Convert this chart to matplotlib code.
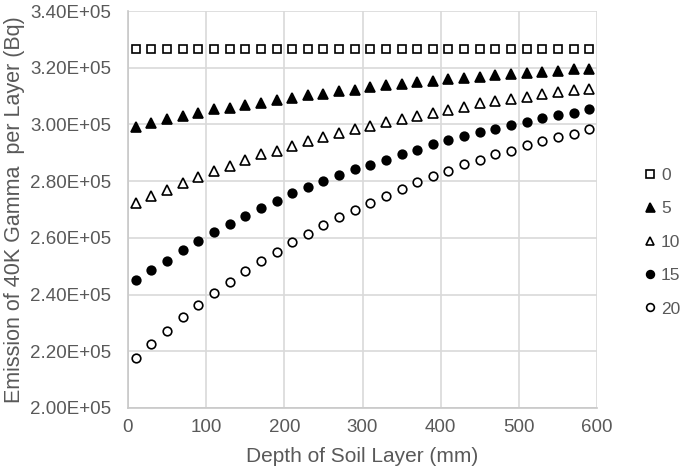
import matplotlib.pyplot as plt
from matplotlib.ticker import FuncFormatter, MultipleLocator

plt.rcParams['font.family'] = ['Liberation Sans', 'DejaVu Sans']

# depth of soil layer (mm)
depth = list(range(10, 600, 20))

# emission per layer, in units of 1e5 Bq
em_0 = [3.265] * 30
em_5 = [2.992, 3.004, 3.020, 3.030, 3.040, 3.054, 3.059, 3.070, 3.077, 3.086,
        3.094, 3.103, 3.108, 3.117, 3.122, 3.131, 3.139, 3.143, 3.151, 3.154,
        3.159, 3.163, 3.168, 3.173, 3.179, 3.182, 3.186, 3.189, 3.194, 3.195]
em_10 = [2.722, 2.746, 2.769, 2.793, 2.815, 2.835, 2.854, 2.876, 2.894, 2.908,
         2.925, 2.942, 2.956, 2.969, 2.983, 2.996, 3.009, 3.020, 3.030, 3.042,
         3.051, 3.062, 3.075, 3.083, 3.089, 3.098, 3.106, 3.114, 3.120, 3.126]
em_15 = [2.450, 2.485, 2.520, 2.558, 2.589, 2.619, 2.648, 2.676, 2.706, 2.729,
         2.758, 2.779, 2.800, 2.823, 2.842, 2.857, 2.875, 2.894, 2.911, 2.930,
         2.944, 2.960, 2.973, 2.984, 2.998, 3.009, 3.023, 3.034, 3.041, 3.053]
em_20 = [2.175, 2.226, 2.273, 2.320, 2.363, 2.406, 2.443, 2.482, 2.518, 2.551,
         2.586, 2.615, 2.645, 2.674, 2.700, 2.724, 2.749, 2.771, 2.796, 2.817,
         2.835, 2.859, 2.875, 2.894, 2.908, 2.927, 2.940, 2.955, 2.968, 2.984]

labels = ['0', '5', '10', '15', '20']
series = [em_0, em_5, em_10, em_15, em_20]
markers = ['s', '^', '^', 'o', 'o']
fills = ['white', 'black', 'white', 'black', 'white']
sizes = [6.0, 7.2, 6.8, 6.2, 6.2]

grey = '#595959'
grid_col = '#d9d9d9'

fig = plt.figure(figsize=(6.85, 4.74), dpi=100)
ax = fig.add_axes([128 / 685, 1 - 408 / 474, 469 / 685, 397 / 474])

for lab, vals, m, fc, s in zip(labels, series, markers, fills, sizes):
    ax.plot(depth, [v * 1e5 for v in vals], linestyle='none', marker=m,
            markersize=s, markerfacecolor=fc, markeredgecolor='black',
            markeredgewidth=1.2, label=lab, zorder=3)

ax.set_xlim(0, 600)
ax.set_ylim(2.0e5, 3.4e5)
ax.xaxis.set_major_locator(MultipleLocator(100))
ax.yaxis.set_major_locator(MultipleLocator(0.2e5))
ax.yaxis.set_major_formatter(FuncFormatter(lambda v, p: f"{v:.2E}"))
ax.grid(True, color=grid_col, linewidth=1.2, zorder=0)
ax.set_axisbelow(True)
for sp in ax.spines.values():
    sp.set_visible(False)
for side in ['left', 'bottom']:
    ax.spines[side].set_visible(True)
    ax.spines[side].set_color('#c8c8c8')
    ax.spines[side].set_linewidth(1.2)
ax.tick_params(length=0, labelsize=13.5, colors=grey)
ax.tick_params(axis='y', pad=12)
ax.tick_params(axis='x', pad=8)

ax.set_xlabel('Depth of Soil Layer (mm)', fontsize=15, color=grey, labelpad=8)
ax.set_ylabel('Emission of 40K Gamma  per Layer (Bq)', fontsize=15.5, color=grey, labelpad=4)

leg = fig.legend(loc='center left', bbox_to_anchor=(0.942, 0.489), frameon=False,
                 fontsize=12.5, handlelength=0.6, handletextpad=0.3,
                 labelspacing=1.05, borderaxespad=0, borderpad=0, markerscale=0.9)
for t in leg.get_texts():
    t.set_color(grey)

fig.savefig('out.png', dpi=100)
